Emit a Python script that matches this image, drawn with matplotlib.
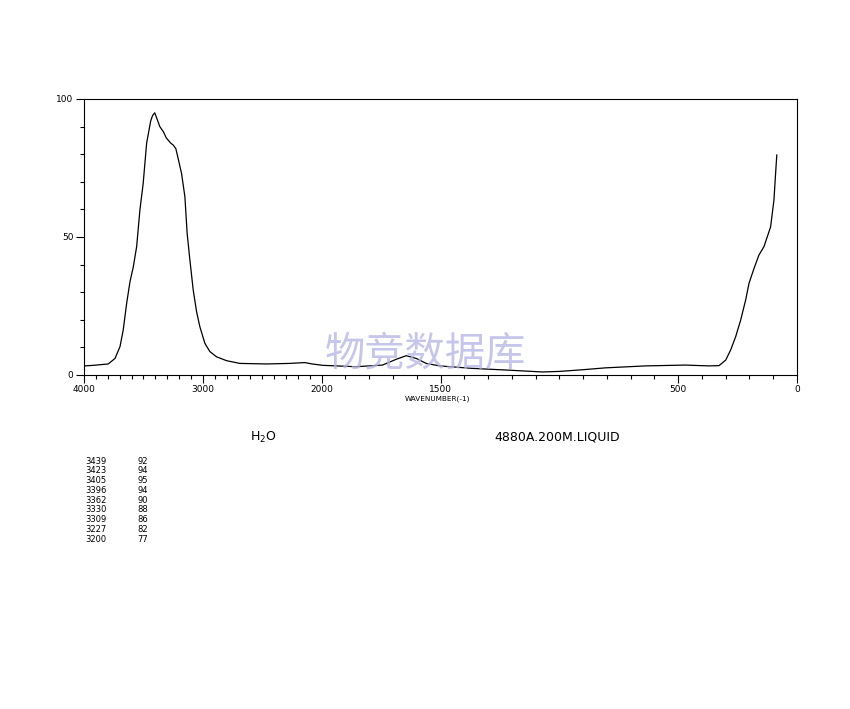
import numpy as np
import matplotlib.pyplot as plt

# Raman spectrum of water
wavenumber = [3992, 3922, 3796, 3739, 3697, 3670, 3641, 3613, 3586, 3557,
              3529, 3502, 3473, 3439, 3423, 3405, 3396, 3362, 3330, 3309,
              3270, 3249, 3227, 3200, 3179, 3151, 3132, 3109, 3081, 3053,
              3025, 2983, 2941, 2885, 2801, 2689, 2465, 2269, 2143, 2080,
              1995, 1854, 1744, 1686, 1644, 1602, 1560, 1504, 1366, 1224,
              1071, 1000, 903, 804, 636, 468, 440, 370, 328, 300,
              279, 258, 237, 216, 202, 181, 160, 139, 125, 111,
              97, 90, 85]
intensity = [3.3, 3.5, 4.0, 6.0, 10.3, 16.3, 26.0, 33.8, 39.0, 46.5,
             60.0, 69.4, 84.0, 92.0, 94.0, 95.0, 94.0, 90.0, 88.0, 86.0,
             84.0, 83.3, 82.0, 77.0, 73.0, 64.6, 51.3, 41.7, 30.8, 23.0,
             17.5, 11.5, 8.5, 6.6, 5.2, 4.2, 4.0, 4.2, 4.5, 4.0,
             3.5, 3.0, 3.6, 5.7, 7.0, 6.0, 4.2, 3.3, 2.4, 1.8,
             1.1, 1.3, 1.9, 2.6, 3.3, 3.6, 3.5, 3.3, 3.4, 5.4,
             9.1, 13.9, 19.9, 27.2, 33.2, 38.6, 43.5, 46.5, 50.1, 53.7,
             63.4, 73.1, 79.7]

x_ticks = [4000, 3000, 2000, 1500, 500, 0]
y_ticks = [0, 50, 100]

peak_pos = ["3439", "3423", "3405", "3396", "3362", "3330", "3309", "3227", "3200"]
peak_int = ["92", "94", "95", "94", "90", "88", "86", "82", "77"]


# scale changes at 2000: the 4000-2000 half is drawn at half the density
def fwd(w):
    w = np.asarray(w, dtype=float)
    return np.where(w <= 2000, w, 2000 + (w - 2000) / 2)


def inv(u):
    u = np.asarray(u, dtype=float)
    return np.where(u <= 2000, u, 2000 + (u - 2000) * 2)


W, H = 850, 709
fig = plt.figure(figsize=(W / 100, H / 100), dpi=100)
ax = fig.add_axes([84 / W, 1 - 375 / H, (797 - 84) / W, (375 - 99) / H])

ax.plot(wavenumber, intensity, color='black', linewidth=0.9)

ax.set_xscale('function', functions=(fwd, inv))
ax.set_xlim(4000, 0)
ax.set_ylim(0, 100)

ax.set_xticks(x_ticks)
ax.set_xticks([w for w in range(100, 4000, 100) if w not in x_ticks], minor=True)
ax.set_yticks(y_ticks)
ax.set_yticks(range(10, 100, 10), minor=True)
ax.tick_params(axis='both', which='major', direction='out', length=6,
               width=0.8, labelsize=6.5, pad=1.5, colors='black')
ax.tick_params(axis='both', which='minor', direction='out', length=3, width=0.8)
for s in ax.spines.values():
    s.set_linewidth(0.8)

fig.text(437 / W, 1 - 399 / H, "WAVENUMBER(-1)", fontsize=5.2,
         ha='center', va='center')

# watermark
fig.text(425 / W, 1 - 354 / H, "物竞数据库", fontsize=29, color='#b4b4e4',
         alpha=0.75, ha='center', va='center',
         family=['Noto Sans CJK SC', 'DejaVu Sans'])

fig.text(250 / W, 1 - 437 / H, "H$_2$O", fontsize=9, ha='left', va='center')
fig.text(494 / W, 1 - 437 / H, "4880A.200M.LIQUID", fontsize=9,
         ha='left', va='center')

for i, (p, v) in enumerate(zip(peak_pos, peak_int)):
    y = 1 - (461 + i * 9.8) / H
    fig.text(85 / W, y, p, fontsize=6, ha='left', va='center')
    fig.text(137 / W, y, v, fontsize=6, ha='left', va='center')

fig.savefig("out.png", dpi=100)
